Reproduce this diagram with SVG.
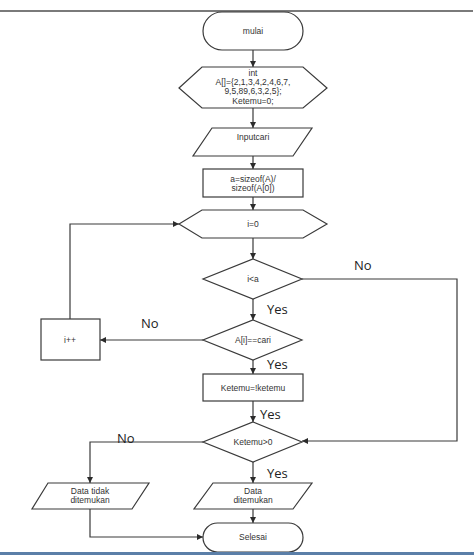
<svg xmlns="http://www.w3.org/2000/svg" width="474" height="555" viewBox="0 0 474 555">
<defs>
<marker id="arr" viewBox="0 0 10 10" refX="10" refY="5" markerWidth="6" markerHeight="6" orient="auto" markerUnits="userSpaceOnUse">
<path d="M0,0 L10,5 L0,10 z" fill="#2b2b2b"/>
</marker>
<style>
.s{fill:#fff;stroke:#3a3a3a;stroke-width:1.2}
.c{fill:none;stroke:#3a3a3a;stroke-width:1.2}
.t{font-family:"Liberation Sans",Arial,sans-serif;font-size:8.5px;fill:#333;text-anchor:middle}
.l{font-family:"Open Sans","DejaVu Sans",sans-serif;font-size:13px;fill:#222}
</style>
</defs>
<rect width="474" height="555" fill="#fff"/>
<line x1="0" y1="11" x2="473" y2="11" stroke="#7a7a7a" stroke-width="1.8"/>
<g id="connectors">
<line class="c" x1="253" y1="50" x2="253" y2="67" marker-end="url(#arr)"/>
<line class="c" x1="253" y1="108" x2="253" y2="128" marker-end="url(#arr)"/>
<line class="c" x1="253" y1="156" x2="253" y2="169" marker-end="url(#arr)"/>
<line class="c" x1="253" y1="197" x2="253" y2="210" marker-end="url(#arr)"/>
<line class="c" x1="253" y1="238" x2="253" y2="259" marker-end="url(#arr)"/>
<line class="c" x1="253" y1="299" x2="253" y2="320" marker-end="url(#arr)"/>
<line class="c" x1="253" y1="360" x2="253" y2="374" marker-end="url(#arr)"/>
<line class="c" x1="253" y1="401" x2="253" y2="422" marker-end="url(#arr)"/>
<line class="c" x1="253" y1="462" x2="253" y2="483" marker-end="url(#arr)"/>
<line class="c" x1="253" y1="509" x2="253" y2="523" marker-end="url(#arr)"/>
<polyline class="c" points="302,279 457,279 457,441 302,441" marker-end="url(#arr)"/>
<line class="c" x1="203" y1="340" x2="100" y2="340" marker-end="url(#arr)"/>
<polyline class="c" points="70,319 70,224 179,224" marker-end="url(#arr)"/>
<polyline class="c" points="203,442 90,442 90,483" marker-end="url(#arr)"/>
<polyline class="c" points="90,509 90,537 203,537" marker-end="url(#arr)"/>
<text class="l" x="354" y="270">No</text>
<text class="l" x="267" y="314">Yes</text>
<text class="l" x="141" y="328">No</text>
<text class="l" x="267" y="369">Yes</text>
<text class="l" x="260" y="419">Yes</text>
<text class="l" x="117" y="443">No</text>
<text class="l" x="267" y="478">Yes</text>
</g>
<g id="mulai">
<rect class="s" x="203" y="12" width="100" height="38" rx="19"/>
<text class="t" x="253" y="34">mulai</text>
</g>
<g id="init">
<polygon class="s" points="179,88 202,67 303,67 327,88 303,108 202,108"/>
<text class="t" x="253" y="76">int</text>
<text class="t" x="253" y="85">A[]={2,1,3,4,2,4,6,7,</text>
<text class="t" x="253" y="94">9,5,89,6,3,2,5};</text>
<text class="t" x="253" y="104">Ketemu=0;</text>
</g>
<g id="input">
<polygon class="s" points="212,128 312,128 293,156 193,156"/>
<text class="t" x="253" y="140">Inputcari</text>
</g>
<g id="size">
<rect class="s" x="203" y="169" width="100" height="28"/>
<text class="t" x="253" y="182">a=sizeof(A)/</text>
<text class="t" x="253" y="191">sizeof(A[0])</text>
</g>
<g id="i0">
<polygon class="s" points="179,224 202,210 303,210 327,224 303,238 202,238"/>
<text class="t" x="253" y="227">i=0</text>
</g>
<g id="cond1">
<polygon class="s" points="253,259 302,279 253,299 203,279"/>
<text class="t" x="253" y="282">i&lt;a</text>
</g>
<g id="cond2">
<polygon class="s" points="253,320 302,340 253,360 203,340"/>
<text class="t" x="253" y="343">A[i]==cari</text>
</g>
<g id="inc">
<rect class="s" x="41" y="319" width="59" height="41"/>
<text class="t" x="70" y="343">i++</text>
</g>
<g id="ketemu">
<rect class="s" x="203" y="374" width="100" height="27"/>
<text class="t" x="253" y="391">Ketemu=!ketemu</text>
</g>
<g id="cond3">
<polygon class="s" points="253,422 302,442 253,462 203,442"/>
<text class="t" x="253" y="445">Ketemu&gt;0</text>
</g>
<g id="notfound">
<polygon class="s" points="48,483 149,483 132,509 32,509"/>
<text class="t" x="90" y="494">Data tidak</text>
<text class="t" x="90" y="503">ditemukan</text>
</g>
<g id="found">
<polygon class="s" points="213,483 312,483 293,509 194,509"/>
<text class="t" x="253" y="494">Data</text>
<text class="t" x="253" y="503">ditemukan</text>
</g>
<g id="selesai">
<rect class="s" x="203" y="523" width="100" height="29" rx="14.5"/>
<text class="t" x="253" y="540">Selesai</text>
</g>
<rect x="0" y="552" width="474" height="3" fill="#5b7fa8"/>
</svg>
